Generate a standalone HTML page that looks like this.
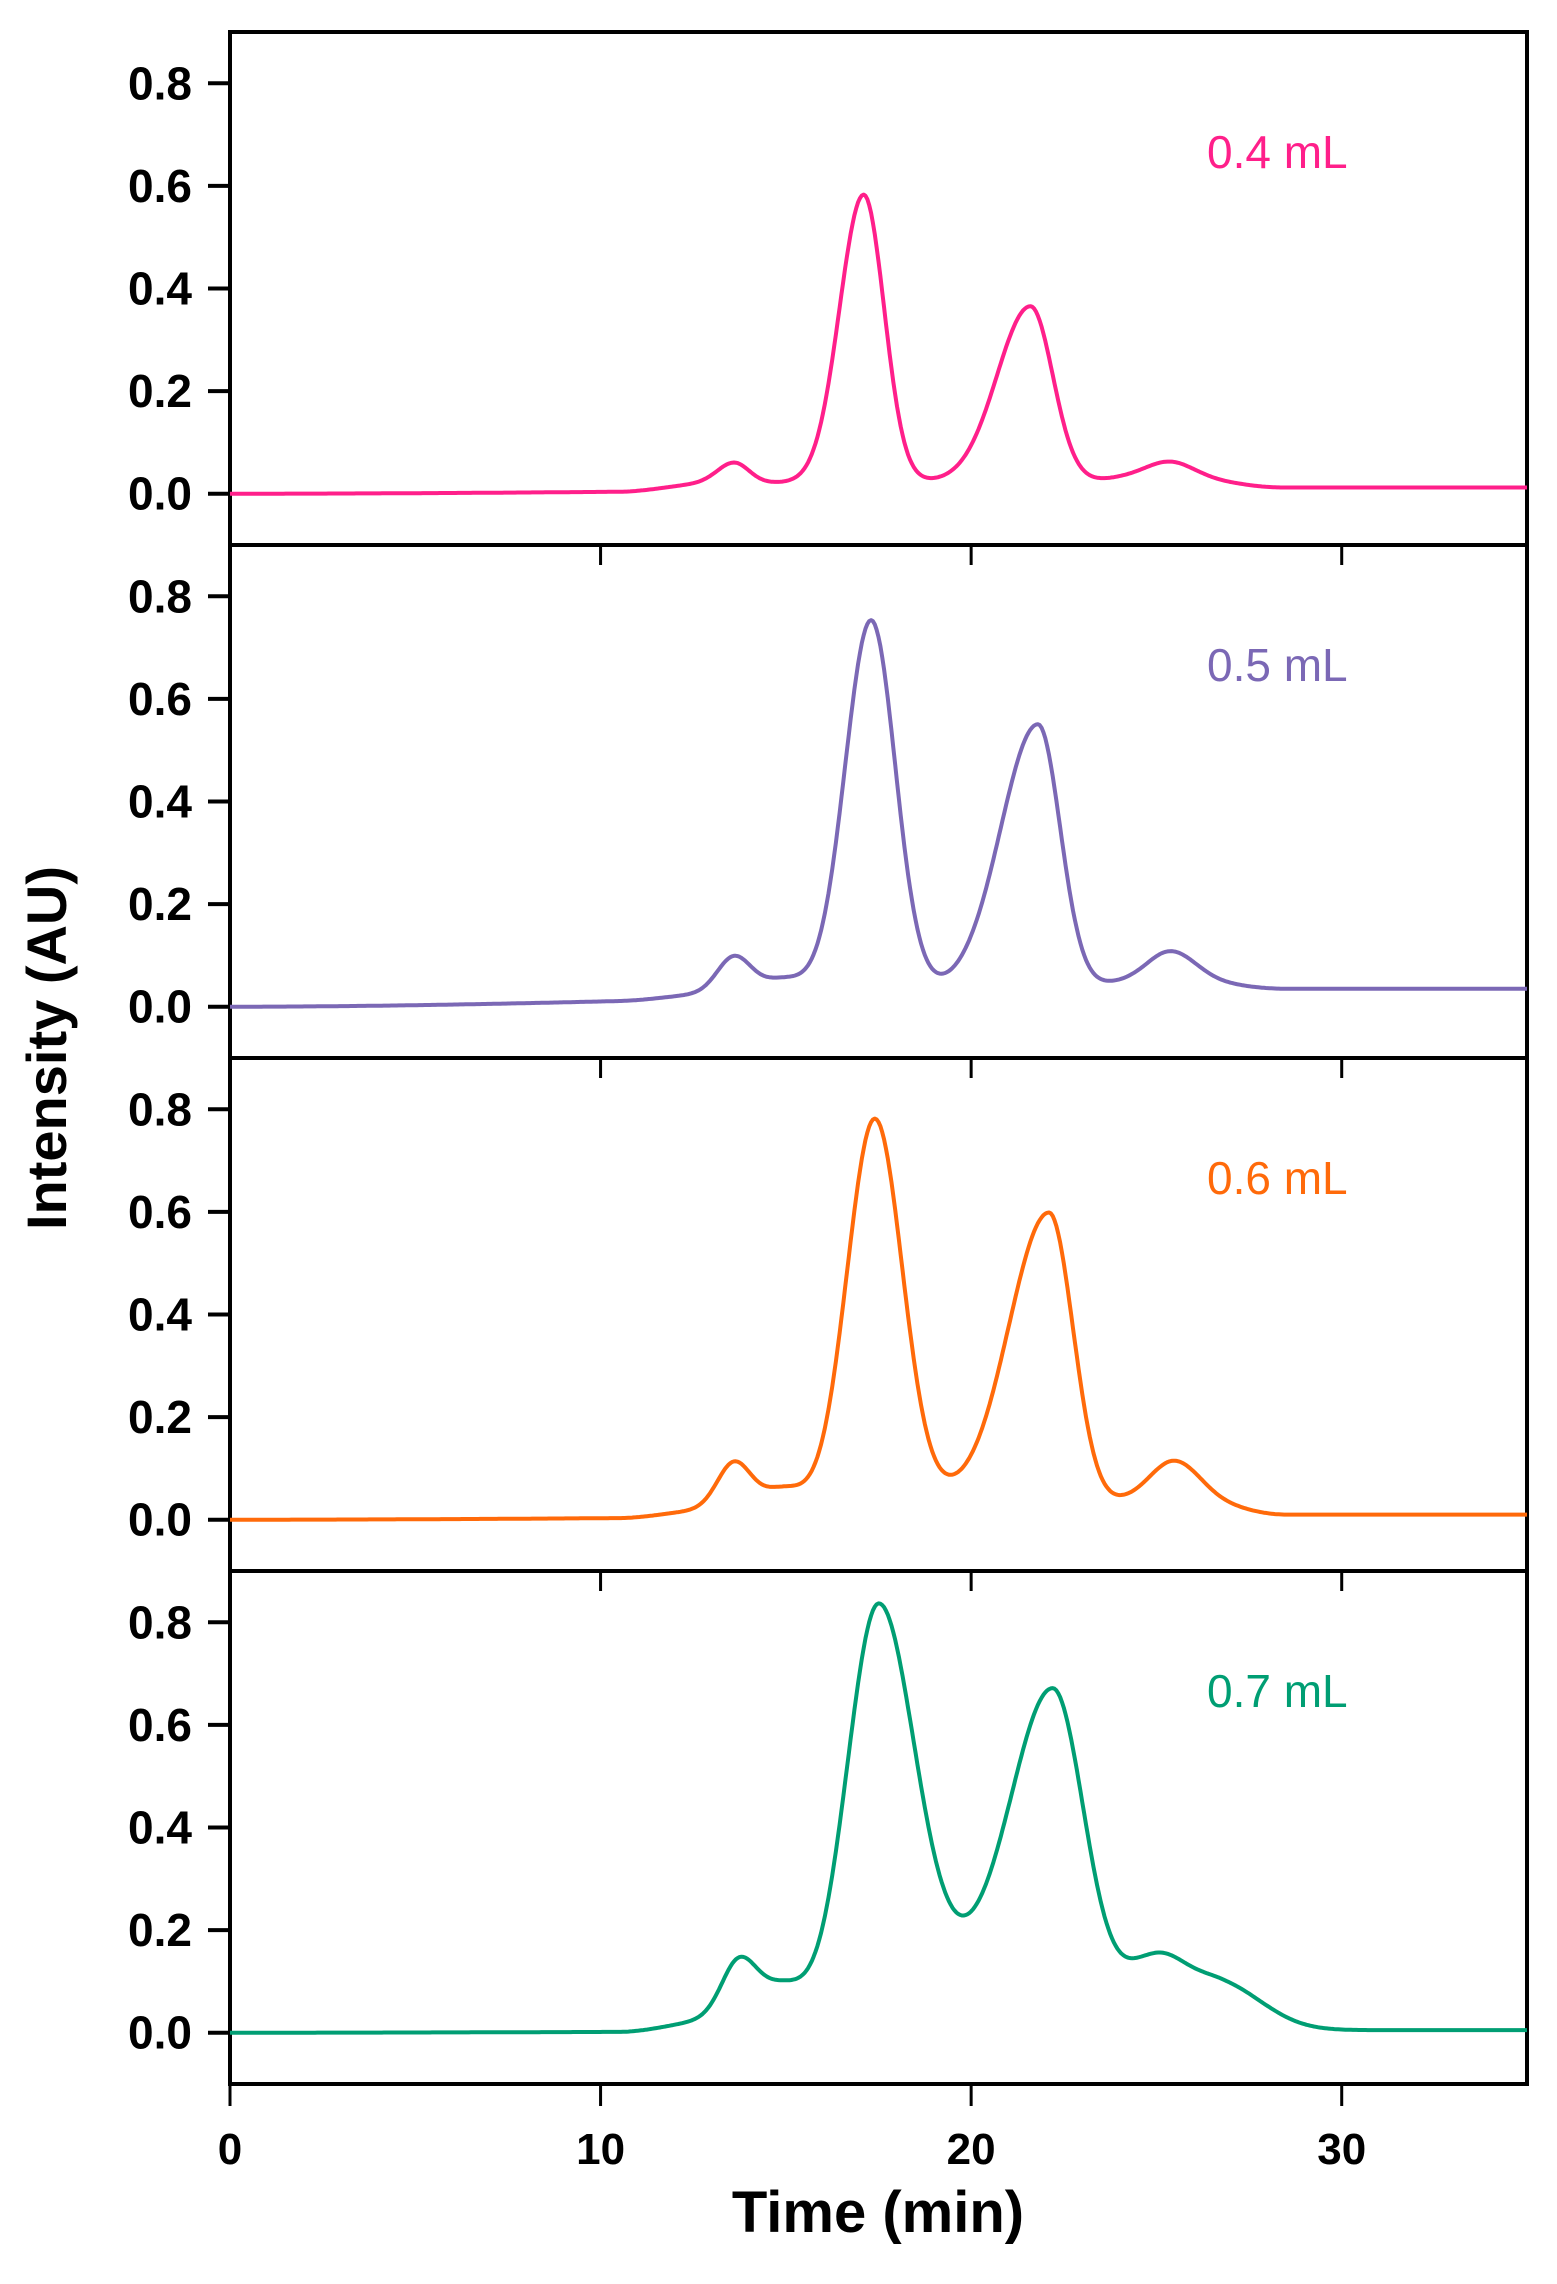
<!DOCTYPE html>
<html><head><meta charset="utf-8"><style>
html,body{margin:0;padding:0;background:#fff;}
svg{display:block;}
text{font-family:"Liberation Sans",Arial,sans-serif;}
</style></head><body>
<svg id="s" width="1557" height="2284" viewBox="0 0 1557 2284" xmlns="http://www.w3.org/2000/svg">
<g id="g"></g>
<text x="878" y="2232" font-size="58" font-weight="bold" text-anchor="middle">Time (min)</text>
<text transform="translate(66,1048) rotate(-90)" font-size="56" font-weight="bold" text-anchor="middle">Intensity (AU)</text>
</svg>
<script>
(function(){
var NS="http://www.w3.org/2000/svg";
var g=document.getElementById("g");
var L=230,R=1527,T=32,PH=513,K=513;
function X(t){return L+t*(R-L)/35;}
function el(n,a,txt){var e=document.createElementNS(NS,n);for(var k in a)e.setAttribute(k,a[k]);if(txt!=null)e.textContent=txt;g.appendChild(e);return e;}
function ag(t,c,h,sl,sr){var s=t<c?sl:sr;var d=(t-c)/s;return h*Math.exp(-d*d/2);}
function ss(a,b,t){var x=Math.min(1,Math.max(0,(t-a)/(b-a)));return x*x*(3-2*x);}
var P=[
 {col:"#ff1f8a",lab:"0.4 mL",end:0.012,pre:0.015,tail:0.012,pk:[[13.6,0.04,0.45,0.4],[17.1,0.56,0.65,0.55],[21.6,0.34,0.9,0.6],[25.4,0.028,0.6,0.6]]},
 {col:"#7b68b5",lab:"0.5 mL",end:0.035,pre:0.01,tail:0.012,pk:[[13.6,0.07,0.45,0.45],[14.9,0.025,0.6,0.6],[17.3,0.72,0.7,0.65],[21.8,0.51,1.0,0.6],[25.4,0.055,0.6,0.65]]},
 {col:"#ff6a0a",lab:"0.6 mL",end:0.01,pre:0.015,tail:0.025,pk:[[13.6,0.09,0.45,0.45],[14.9,0.04,0.6,0.6],[17.4,0.76,0.75,0.75],[19.4,0.015,0.6,0.6],[22.1,0.575,1.1,0.65],[25.5,0.07,0.6,0.65]]},
 {col:"#009e73",lab:"0.7 mL",end:0.005,pre:0.02,tail:0.0,pk:[[13.7,0.09,0.45,0.45],[14.8,0.07,0.9,0.7],[17.5,0.81,0.85,1.0],[19.7,0.06,0.9,0.9],[22.2,0.645,1.2,0.85],[25.0,0.12,0.9,0.8],[26.8,0.085,0.9,1.1]]}
];
for(var i=0;i<4;i++){
 var p=P[i],ptop=T+i*PH,y0=ptop+0.9*K;
 el("rect",{x:L,y:ptop,width:R-L,height:PH,fill:"none",stroke:"#000","stroke-width":4});
 for(var j=0;j<=4;j++){var v=j*0.2,yy=y0-v*K;
  el("line",{x1:L-22,y1:yy,x2:L,y2:yy,stroke:"#000","stroke-width":4});
  el("text",{x:L-38,y:yy+16,"font-size":46,"font-weight":"bold","text-anchor":"end"},v.toFixed(1));}
 if(i>0){for(var t=10;t<=30;t+=10){el("line",{x1:X(t),y1:ptop,x2:X(t),y2:ptop+20,stroke:"#000","stroke-width":3});}}
 var d="";
 for(var n=0;n<=700;n++){var t=n*0.05;
  var v=p.end*ss(0,28,t)+p.pre*ss(10.5,13,t)*(1-ss(24,28,t))+p.tail*ss(23,25,t)*(1-ss(26,28.5,t));
  for(var k=0;k<p.pk.length;k++){var q=p.pk[k];v+=ag(t,q[0],q[1],q[2],q[3]);}
  d+=(n==0?"M":"L")+X(t).toFixed(1)+","+(y0-v*K).toFixed(1);
 }
 el("path",{d:d,fill:"none",stroke:p.col,"stroke-width":4,"stroke-linejoin":"round"});
 el("text",{x:1207,y:ptop+136,"font-size":46,fill:p.col},p.lab);
}
var by=T+4*PH;
for(var t=0;t<=30;t+=10){
 el("line",{x1:X(t),y1:by,x2:X(t),y2:by+22,stroke:"#000","stroke-width":3});
 el("text",{x:X(t),y:by+80,"font-size":44,"font-weight":"bold","text-anchor":"middle"},String(t));
}
})();
</script>
</body></html>
